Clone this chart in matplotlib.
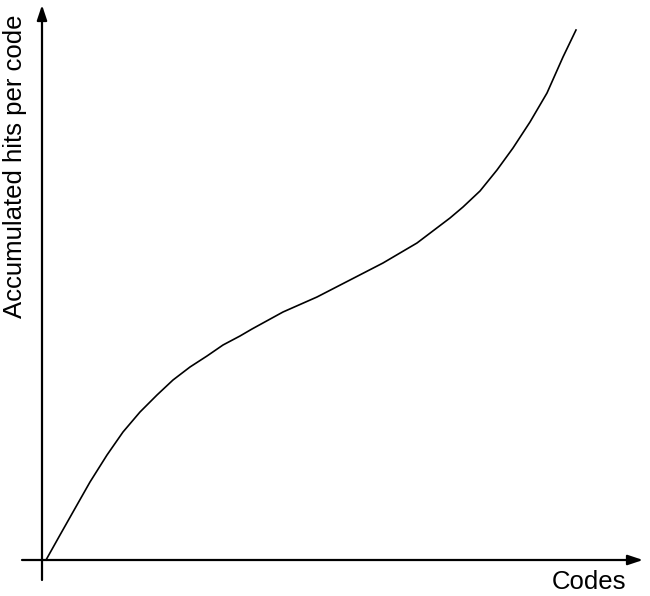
import matplotlib
matplotlib.use("Agg")
import matplotlib.pyplot as plt

# curve (origin at the axis crossing)
codes = [4, 18, 31, 48, 65, 81, 98, 115, 131, 148, 165, 181, 198, 210, 241, 275, 308,
         341, 375, 408, 421, 438, 455, 471, 488, 505, 521, 534]
hits = [0, 25, 48, 78, 105, 128, 148, 165, 180, 193, 204, 215, 224, 231, 248, 263, 280,
        297, 317, 342, 353, 369, 390, 412, 438, 467, 503, 530]

x_label = "Codes"
y_label = "Accumulated hits per code"

plt.rcParams["font.family"] = ["Liberation Sans", "DejaVu Sans"]

fig = plt.figure(figsize=(6.5, 5.96), dpi=100)
ax = fig.add_axes([0, 0, 1, 1])
ax.set_xlim(-42, 608)
ax.set_ylim(-36, 560)
ax.axis("off")

# axes with arrow heads
arrow = dict(arrowstyle="-|>,head_length=0.9,head_width=0.3", color="black",
             lw=1.6, shrinkA=0, shrinkB=0)
ax.annotate("", xy=(601, 0), xytext=(-20, 0), arrowprops=arrow)
ax.annotate("", xy=(0, 555), xytext=(0, -20), arrowprops=arrow)

ax.plot(codes, hits, color="black", lw=1.2, solid_joinstyle="round")

ax.text(584, -22, x_label, fontsize=18.5, ha="right", va="center")
ax.text(-27, 394, y_label, fontsize=18.5, ha="center", va="center", rotation=90)

fig.savefig("out.png", dpi=100)
